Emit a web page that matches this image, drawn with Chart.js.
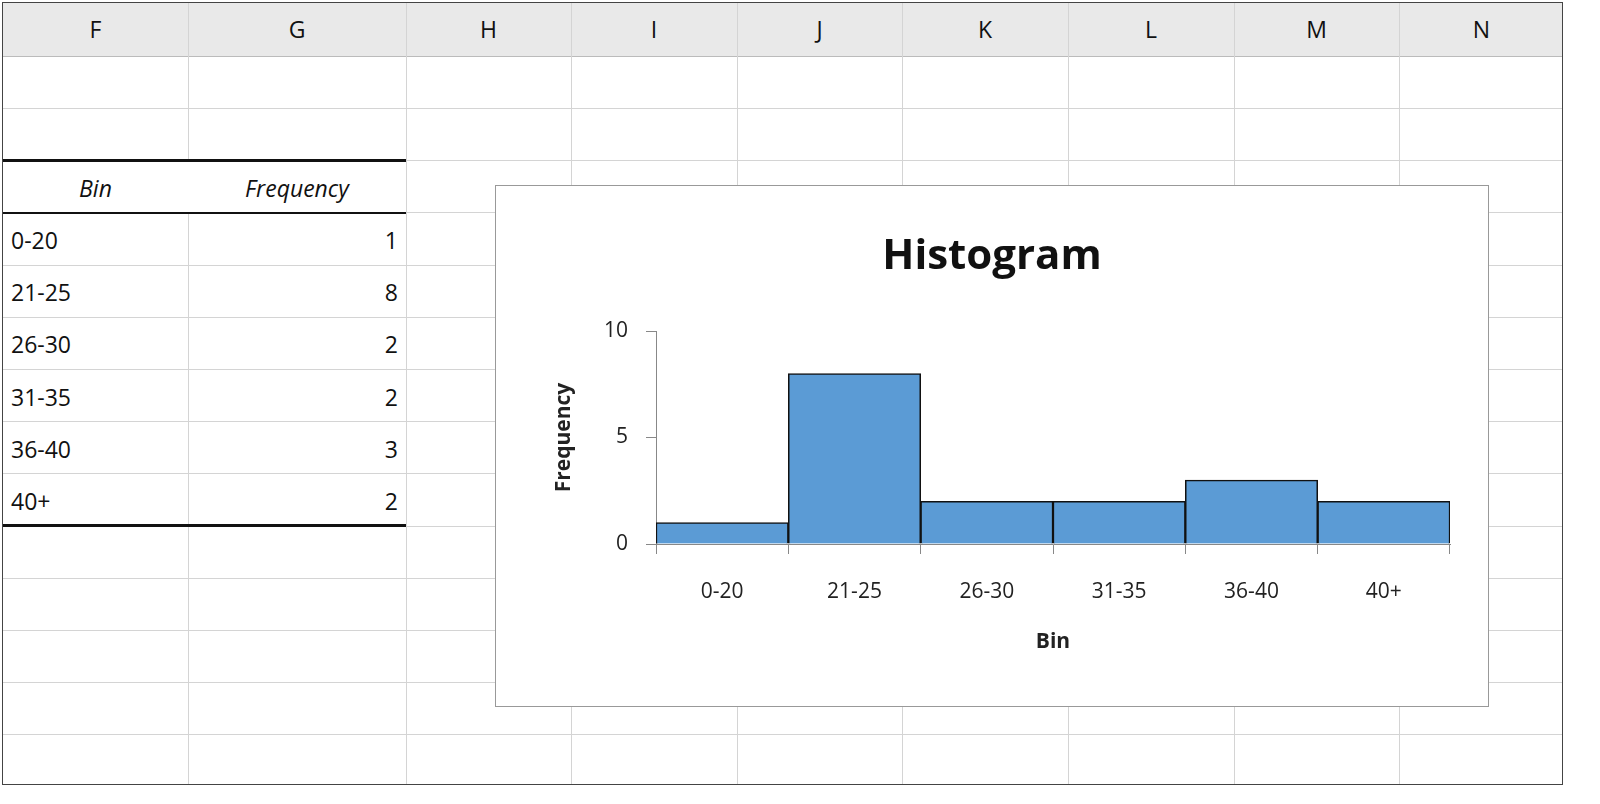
<!DOCTYPE html>
<html><head><meta charset="utf-8">
<script src="https://cdn.jsdelivr.net/npm/chart.js@4"></script>
<style>
body{margin:0;background:#fff;font-family:"Open Sans","Liberation Sans",sans-serif;}
#sheet{position:absolute;left:2px;top:2px;width:1561px;height:783px;border:1.5px solid #444;box-sizing:border-box;overflow:hidden;background:#fff}
.t{position:absolute;font-size:23px;color:#111;line-height:52px;white-space:nowrap}
#chartbox{position:absolute;left:495px;top:185px;width:994px;height:522px;border:1.5px solid #999;box-sizing:border-box;background:#fff}
#c{position:absolute;left:0;top:0}
</style></head><body>
<div id="sheet"></div>
<div id="chartbox"><canvas id="c" width="991" height="519"></canvas></div>
<script>
const categories=["0-20","21-25","26-30","31-35","36-40","40+"];
const frequency=[1,8,2,2,3,2];
const columns=["F","G","H","I","J","K","L","M","N"];
const colEdges=[2,187,405,570,736,901,1067,1233,1398,1563];
const sh=document.getElementById('sheet');
function add(html){sh.insertAdjacentHTML('beforeend',html);}
add('<div style="position:absolute;left:0;top:0;width:100%;height:53px;background:#e9e9e9;border-bottom:1px solid #bbb"></div>');
for(let i=0;i<columns.length;i++){
  const l=colEdges[i]-2,w=colEdges[i+1]-colEdges[i];
  add(`<div class="t" style="left:${l}px;top:0;width:${w}px;text-align:center;line-height:53px">${columns[i]}</div>`);
  if(i>0) add(`<div style="position:absolute;left:${l}px;top:0;width:1px;height:100%;background:#d4d4d4"></div>`);
}
for(let y=105;y<790;y+=52.2){add(`<div style="position:absolute;left:0;top:${y}px;width:100%;height:1px;background:#d4d4d4"></div>`);}
add('<div style="position:absolute;left:0;top:156px;width:403px;height:3px;background:#111"></div>');
add('<div style="position:absolute;left:0;top:209px;width:403px;height:2px;background:#111"></div>');
add('<div style="position:absolute;left:0;top:521px;width:403px;height:3px;background:#111"></div>');
add('<div style="position:absolute;left:0;top:159px;width:403px;height:50px;background:#fff"></div>');
add('<div class="t" style="left:0;top:159px;width:185px;text-align:center;font-style:italic">Bin</div>');
add('<div class="t" style="left:185px;top:159px;width:218px;text-align:center;font-style:italic">Frequency</div>');
categories.forEach((c,i)=>{
  const y=211+i*52.2;
  add(`<div class="t" style="left:8px;top:${y}px">${c}</div>`);
  add(`<div class="t" style="left:185px;top:${y}px;width:210px;text-align:right">${frequency[i]}</div>`);
});
const cb=document.getElementById('chartbox');
cb.insertAdjacentHTML('beforeend','<div style="position:absolute;left:0;top:38px;width:100%;text-align:center;font-weight:bold;font-size:42px;color:#111;z-index:2">Histogram</div>');
const cv=document.getElementById('c');
new Chart(cv,{type:'bar',
 data:{labels:categories,datasets:[{data:frequency,backgroundColor:'#5B9BD5',borderColor:'#111',borderWidth:1.5,barPercentage:1,categoryPercentage:1}]},
 options:{responsive:false,animation:false,devicePixelRatio:1,
  layout:{padding:{left:50,right:37,top:145,bottom:40}},
  plugins:{legend:{display:false},tooltip:{enabled:false}},
  scales:{
   x:{offset:true,grid:{offset:true,drawOnChartArea:false,drawTicks:true,tickLength:10,color:'#888'},border:{color:'#888'},
      ticks:{padding:25,color:'#222',font:{size:21,family:'Open Sans'}},
      title:{display:true,text:'Bin',color:'#222',font:{size:21,weight:'bold',family:'Open Sans'},padding:{top:0,bottom:10}},
      afterFit:s=>{s.height=121;}},
   y:{min:0,max:10,ticks:{stepSize:5,padding:18,color:'#222',font:{size:21,family:'Open Sans'}},
      grid:{drawOnChartArea:false,drawTicks:true,tickLength:10,color:'#888'},border:{color:'#888'},
      title:{display:true,text:'Frequency',color:'#222',font:{size:21,weight:'bold',family:'Open Sans'},padding:{top:5,bottom:0}},
      afterFit:s=>{s.width=110;}}
  }}});
</script>
</body></html>
